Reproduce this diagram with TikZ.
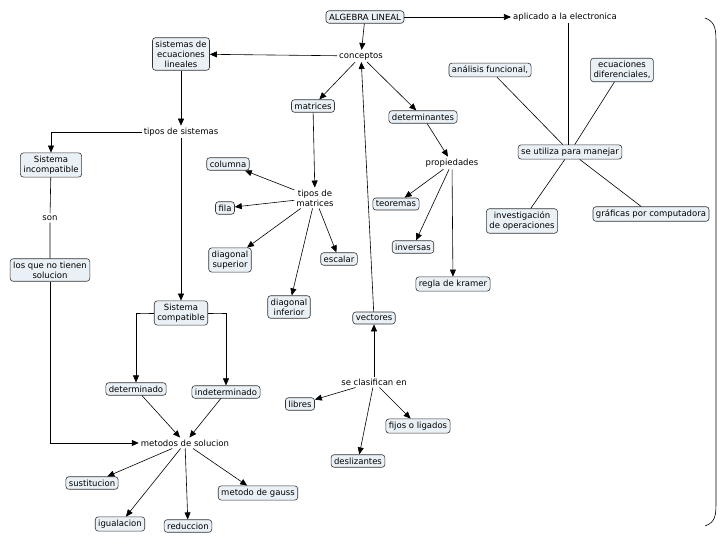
\documentclass[tikz,border=0pt]{standalone}
\usepackage{fontspec}
\setmainfont{DejaVu Sans}
\usetikzlibrary{arrows.meta}
\begin{document}
\begin{tikzpicture}[x=1pt,y=-1pt,
 box/.style={draw=black!80,rounded corners=3pt,fill={rgb,255:red,234;green,241;blue,246},inner sep=3pt,align=center,font=\fontsize{8.5}{10}\selectfont,line width=0.6pt},
 txt/.style={inner sep=2pt,align=center,font=\fontsize{8.5}{10}\selectfont,fill=white},
 ar/.style={-{Triangle[length=7pt,width=6pt]},line width=0.6pt},
 ln/.style={line width=0.6pt}]
\useasboundingbox (0,0) rectangle (728,546);
\node[box] (alg) at (365,17) {ALGEBRA LINEAL};
\node[txt] (apl) at (565,17) {aplicado a la electronica};
\node[txt] (con) at (361,56) {conceptos};
\node[box] (sis) at (181,54) {sistemas de\\ecuaciones\\lineales};
\node[box] (mat) at (313,106) {matrices};
\node[box] (det) at (423,117) {determinantes};
\node[box] (ana) at (490,70) {análisis funcional,};
\node[box] (ecu) at (622,70) {ecuaciones\\diferenciales,};
\node[box] (uti) at (570,152) {se utiliza para manejar};
\node[box] (inv) at (522,221) {investigación\\de operaciones};
\node[box] (gra) at (651,214) {gráficas por computadora};
\node[txt] (pro) at (452,163) {propiedades};
\node[box] (teo) at (396,204) {teoremas};
\node[box] (ins) at (413,247) {inversas};
\node[box] (reg) at (453,284) {regla de kramer};
\node[txt] (tsi) at (181,132) {tipos de sistemas};
\node[box] (inc) at (51,165) {Sistema\\incompatible};
\node[txt] (son) at (50,218) {son};
\node[box] (los) at (50,270) {los que no tienen\\solucion};
\node[box] (col) at (228,164) {columna};
\node[box] (fil) at (225,208) {fila};
\node[txt] (tma) at (315,198) {tipos de\\matrices};
\node[box] (dsu) at (230,260) {diagonal\\superior};
\node[box] (esc) at (339,259) {escalar};
\node[box] (din) at (289,307) {diagonal\\inferior};
\node[box] (vec) at (374,318) {vectores};
\node[box] (com) at (181,313) {Sistema\\compatible};
\node[box] (dto) at (136,389) {determinado};
\node[box] (ind) at (226,392) {indeterminado};
\node[txt] (cla) at (374,382) {se clasifican en};
\node[box] (lib) at (300,404) {libres};
\node[box] (fij) at (418,426) {fijos o ligados};
\node[box] (des) at (358,461) {deslizantes};
\node[txt] (met) at (185,443) {metodos de solucion};
\node[box] (sus) at (92,483) {sustitucion};
\node[box] (gau) at (258,493) {metodo de gauss};
\node[box] (igu) at (120,524) {igualacion};
\node[box] (red) at (188,526) {reduccion};
% right bracket
\draw[ln] (705,18) .. controls (716,22) and (716,30) .. (716,45) -- (716,500) .. controls (716,515) and (716,522) .. (705,526);
% edges
\draw[ar] (alg) -- (con);
\draw[ar] (alg) -- (apl);
\draw[ln] (apl.south -| 568,0) -- (uti.north -| 568,0);
\draw[ln] (ana) -- (uti); \draw[ln] (ecu) -- (uti);
\draw[ln] (uti) -- (inv); \draw[ln] (uti) -- (gra);
\draw[ar] (con) -- (sis);
\draw[ar] (con) -- (mat);
\draw[ar] (con) -- (det);
\draw[ar] (vec) -- (con);
\draw[ar] (sis) -- (tsi);
\draw[ar] (tsi.west) -| (inc.north);
\draw[ar] (tsi.south) -- (com.north);
\draw[ln] (inc) -- (son) -- (los);
\draw[ar] (los.south) |- (met.west);
\draw[ar] (com.west) -- ++(-10,0) -| (dto.north);
\draw[ar] (com.east) -- ++(10,0) -| (ind.north);
\draw[ar] (dto) -- (met); \draw[ar] (ind) -- (met);
\draw[ar] (met) -- (sus); \draw[ar] (met) -- (igu);
\draw[ar] (met) -- (red); \draw[ar] (met) -- (gau);
\draw[ar] (mat) -- (tma);
\draw[ar] (tma) -- (col); \draw[ar] (tma) -- (fil);
\draw[ar] (tma) -- (dsu); \draw[ar] (tma) -- (esc);
\draw[ar] (tma) -- (din);
\draw[ar] (det) -- (pro);
\draw[ar] (pro) -- (teo); \draw[ar] (pro) -- (ins); \draw[ar] (pro) -- (reg);
\draw[ar] (cla) -- (vec); \draw[ar] (cla) -- (lib);
\draw[ar] (cla) -- (fij); \draw[ar] (cla) -- (des);
\end{tikzpicture}
\end{document}
